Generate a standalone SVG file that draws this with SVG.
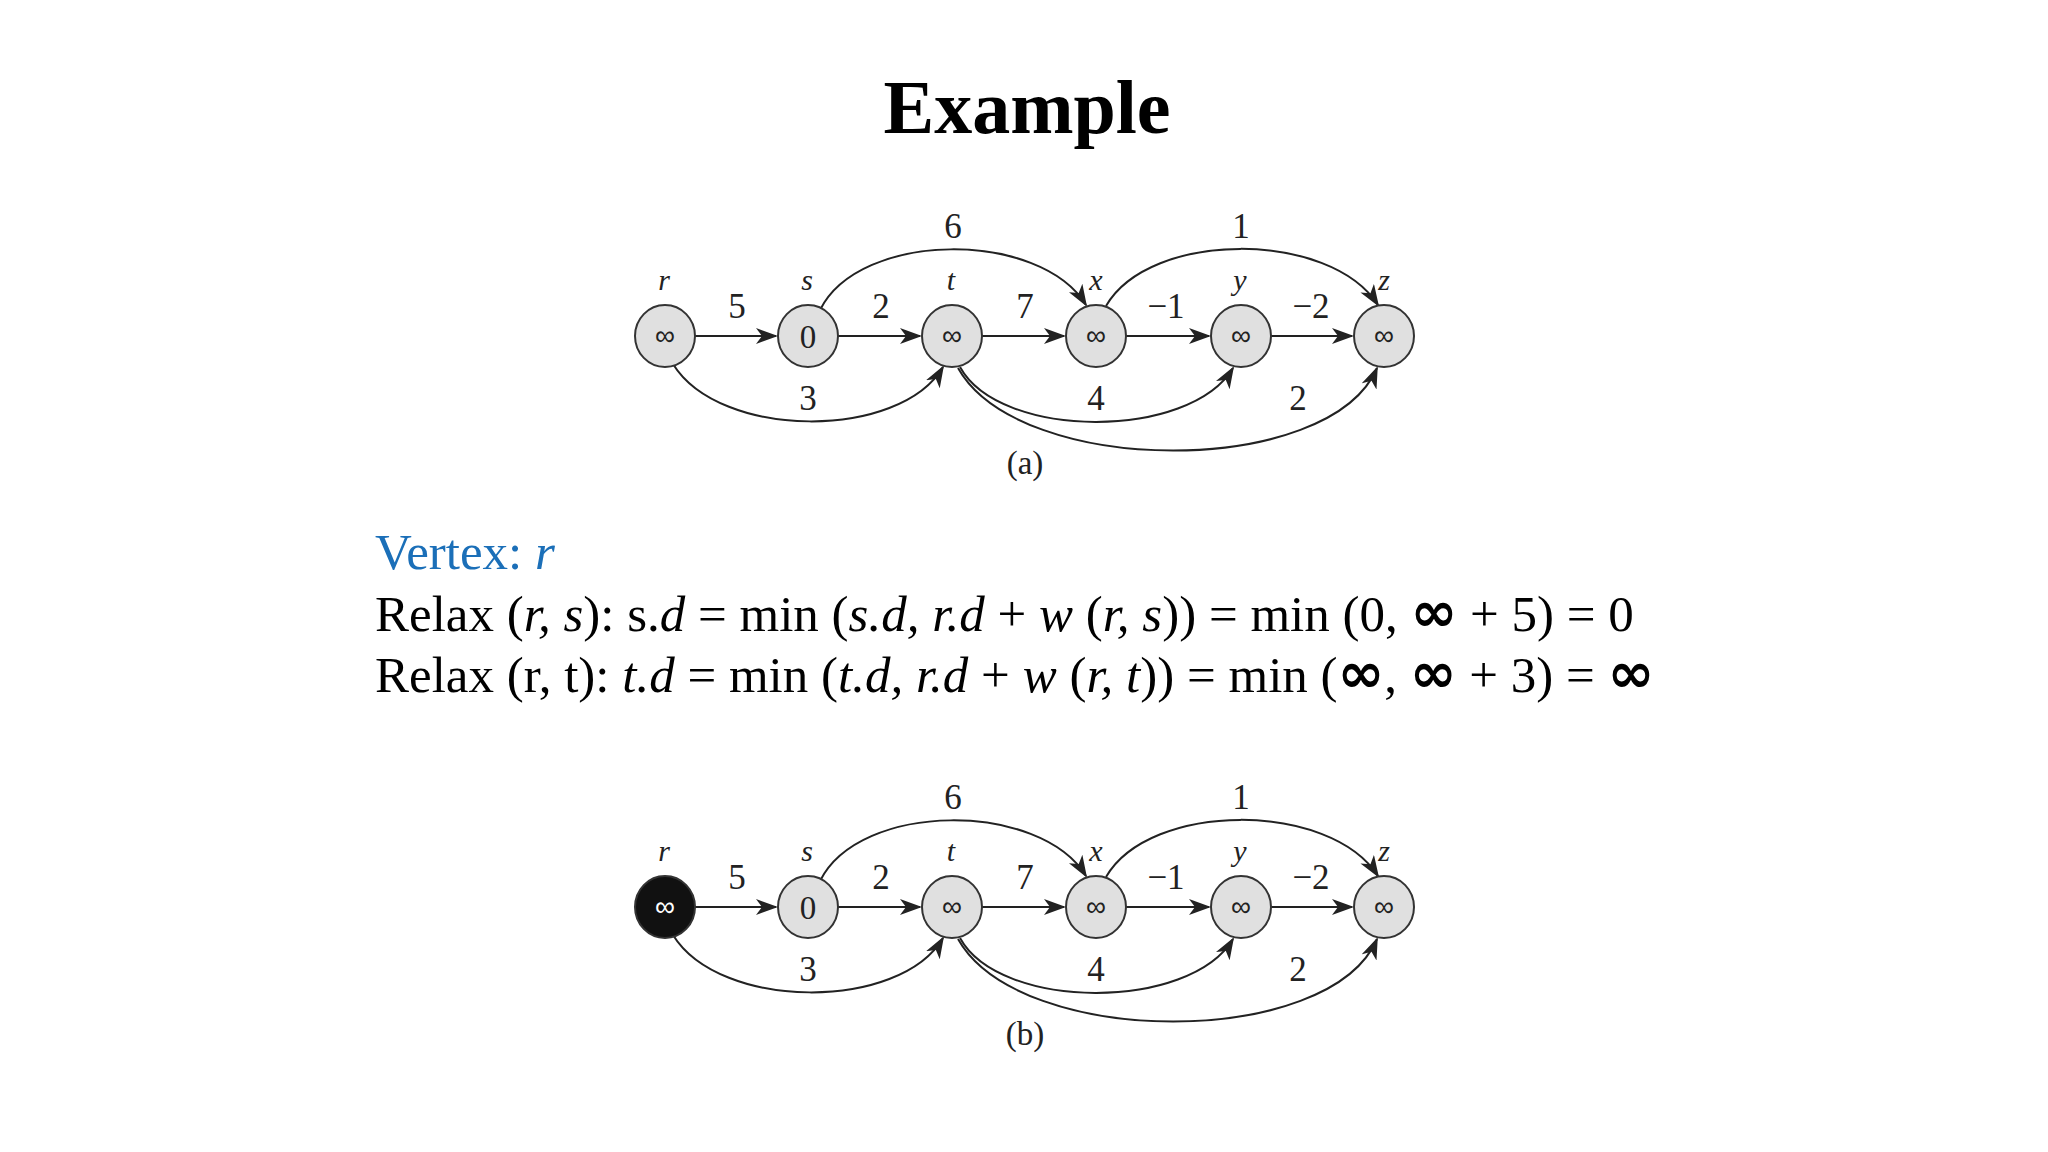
<svg xmlns="http://www.w3.org/2000/svg" width="2048" height="1152" viewBox="0 0 2048 1152">
<style>
.n{fill:#e0e0e0;stroke:#333;stroke-width:2}
.nb{fill:#111;stroke:#333;stroke-width:2}
.e{fill:none;stroke:#222;stroke-width:2;marker-end:url(#ah)}
.v{font-family:"Liberation Serif",serif;font-size:33px;text-anchor:middle;fill:#222}
.vi{font-family:"Liberation Sans",sans-serif;font-size:28px;text-anchor:middle;fill:#222}
.vw{font-family:"Liberation Sans",sans-serif;font-size:28px;text-anchor:middle;fill:#fff}
.lb{font-family:"Liberation Serif",serif;font-style:italic;font-size:30px;text-anchor:middle;fill:#222}
.w{font-family:"Liberation Serif",serif;font-size:35px;text-anchor:middle;fill:#222}
.t{font-family:"Liberation Serif",serif;font-size:51px;fill:#000}
.inf{font-family:"DejaVu Sans",sans-serif;font-weight:bold;font-style:normal;font-size:56px}
</style>
<defs>
<marker id="ah" markerUnits="userSpaceOnUse" markerWidth="22" markerHeight="16" refX="20" refY="8" orient="auto">
<path d="M0,0 L22,8 L0,16 L6,8 Z" fill="#222"/>
</marker>
<g id="graph">
<g id="edges">
<path class="e" d="M695,336 L776,336"/>
<path class="e" d="M838,336 L920,336"/>
<path class="e" d="M982,336 L1064,336"/>
<path class="e" d="M1126,336 L1209,336"/>
<path class="e" d="M1271,336 L1352,336"/>
<path class="e" d="M820,310 C860,230 1040,230 1086,305"/>
<path class="e" d="M1106,306 C1150,230 1330,230 1378,305"/>
<path class="e" d="M673,364 C720,440 900,440 943,367"/>
<path class="e" d="M960,367 C1000,440 1190,440 1233,368"/>
<path class="e" d="M958,368 C1020,478 1330,478 1377,368"/>
</g>
<g class="w">
<text x="737" y="318">5</text><text x="881" y="318">2</text><text x="1025" y="318">7</text>
<text x="1166" y="318">−1</text><text x="1311" y="318">−2</text>
<text x="953" y="238">6</text><text x="1241" y="238">1</text>
<text x="808" y="410">3</text><text x="1096" y="410">4</text><text x="1298" y="410">2</text>
</g>
<g class="lb">
<text x="664" y="290">r</text><text x="807" y="290">s</text><text x="951" y="290">t</text>
<text x="1096" y="290">x</text><text x="1240" y="290">y</text><text x="1384" y="290">z</text>
</g>
</g>
</defs>
<text x="1027" y="133" font-family="Liberation Serif,serif" font-weight="bold" font-size="76" text-anchor="middle">Example</text>

<g id="graph-a">
<use href="#graph"/>
<g id="a-r"><ellipse class="n" cx="665" cy="336" rx="30" ry="31"/><text class="vi" x="665" y="345">∞</text></g>
<g id="a-s"><ellipse class="n" cx="808" cy="336" rx="30" ry="31"/><text class="v" x="808" y="348">0</text></g>
<g id="a-t"><ellipse class="n" cx="952" cy="336" rx="30" ry="31"/><text class="vi" x="952" y="345">∞</text></g>
<g id="a-x"><ellipse class="n" cx="1096" cy="336" rx="30" ry="31"/><text class="vi" x="1096" y="345">∞</text></g>
<g id="a-y"><ellipse class="n" cx="1241" cy="336" rx="30" ry="31"/><text class="vi" x="1241" y="345">∞</text></g>
<g id="a-z"><ellipse class="n" cx="1384" cy="336" rx="30" ry="31"/><text class="vi" x="1384" y="345">∞</text></g>
<text class="v" x="1025" y="474">(a)</text>
</g>

<g id="graph-b" transform="translate(0,571)">
<use href="#graph"/>
<g id="b-r"><ellipse class="nb" cx="665" cy="336" rx="30" ry="31"/><text class="vw" x="665" y="345">∞</text></g>
<g id="b-s"><ellipse class="n" cx="808" cy="336" rx="30" ry="31"/><text class="v" x="808" y="348">0</text></g>
<g id="b-t"><ellipse class="n" cx="952" cy="336" rx="30" ry="31"/><text class="vi" x="952" y="345">∞</text></g>
<g id="b-x"><ellipse class="n" cx="1096" cy="336" rx="30" ry="31"/><text class="vi" x="1096" y="345">∞</text></g>
<g id="b-y"><ellipse class="n" cx="1241" cy="336" rx="30" ry="31"/><text class="vi" x="1241" y="345">∞</text></g>
<g id="b-z"><ellipse class="n" cx="1384" cy="336" rx="30" ry="31"/><text class="vi" x="1384" y="345">∞</text></g>
<text class="v" x="1025" y="474">(b)</text>
</g>

<text class="t" x="375" y="569" style="fill:#1b6fb8">Vertex: <tspan font-style="italic">r</tspan></text>
<text class="t" x="375" y="631">Relax (<tspan font-style="italic">r, s</tspan>): s.<tspan font-style="italic">d</tspan> = min (<tspan font-style="italic">s.d, r.d</tspan> + <tspan font-style="italic">w</tspan> (<tspan font-style="italic">r, s</tspan>)) = min (0, <tspan class="inf">∞</tspan> + 5) = 0</text>
<text class="t" x="375" y="692">Relax (r, t): <tspan font-style="italic">t.d</tspan> = min (<tspan font-style="italic">t.d, r.d</tspan> + <tspan font-style="italic">w</tspan> (<tspan font-style="italic">r, t</tspan>)) = min (<tspan class="inf">∞</tspan>, <tspan class="inf">∞</tspan> + 3) = <tspan class="inf">∞</tspan></text>
</svg>
